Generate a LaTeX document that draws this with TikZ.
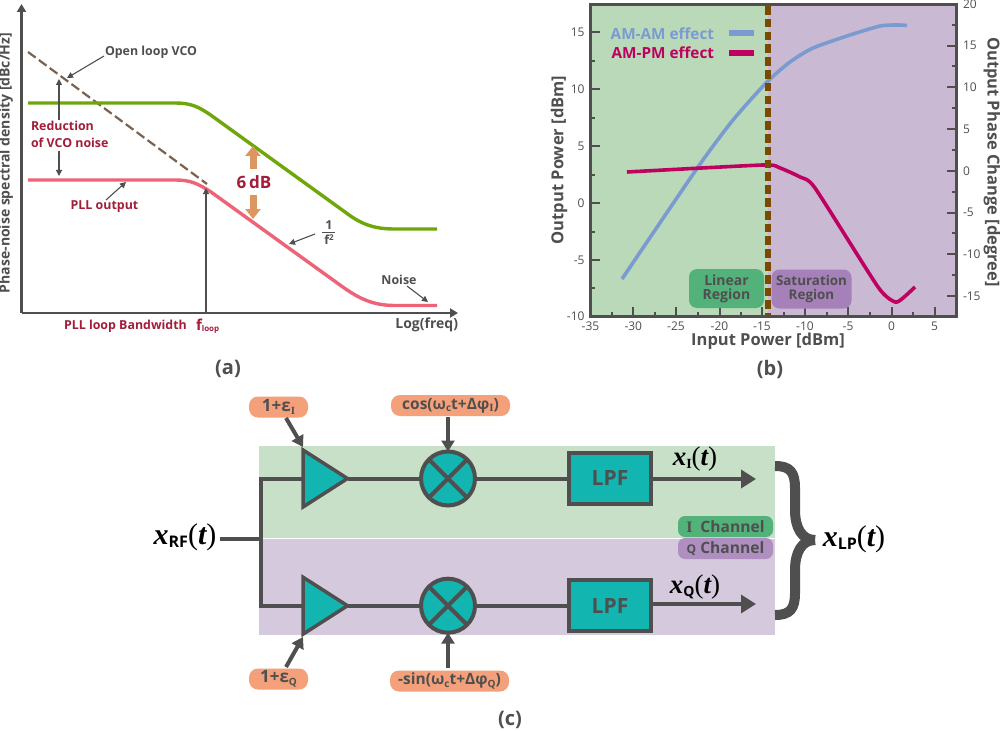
\documentclass[tikz,border=0pt]{standalone}
\usepackage{fontspec}
\setmainfont{Open Sans}
\newfontfamily\mathserif{Liberation Serif}
\usetikzlibrary{arrows.meta,shapes.geometric}
\definecolor{ink}{HTML}{4F4F4F}
\definecolor{dred}{HTML}{A31D3A}
\definecolor{cgreen}{HTML}{6FA60A}
\definecolor{cpink}{HTML}{EE6377}
\definecolor{cdash}{HTML}{7A6250}
\definecolor{corange}{HTML}{DC9660}
\definecolor{bgreen}{HTML}{BAD9B9}
\definecolor{bpurple}{HTML}{C9B9D3}
\definecolor{lgreen}{HTML}{C8DFC8}
\definecolor{lpurple}{HTML}{D5C9DD}
\definecolor{cblue}{HTML}{7A9BD0}
\definecolor{cmag}{HTML}{BE0060}
\definecolor{cbrown}{HTML}{7A4A00}
\definecolor{boxg}{HTML}{52B279}
\definecolor{boxp}{HTML}{A680B8}
\definecolor{teal}{HTML}{12B5B0}
\definecolor{pill}{HTML}{F4A07A}
\newcommand{\fsz}[1]{\fontsize{#1}{#1}\selectfont}
\newcommand{\sbs}[1]{\raisebox{-0.3ex}{\fontsize{10}{10}\selectfont #1}}
\newcommand{\sbI}{\raisebox{-0.3ex}{\mathserif\bfseries\fontsize{11}{11}\selectfont I}}
% #1 subscript, #2 size of the x
\newcommand{\serx}[2]{{\mathserif\fontsize{#2}{#2}\selectfont{\bfseries\itshape x}\raisebox{-0.25ex}{\rmfamily\bfseries\fontsize{\numexpr#2*16/30\relax}{16}\selectfont #1}{(}{\bfseries\itshape t}{)}}}
\tikzset{
 txt/.style={inner sep=0pt,outer sep=0pt,text=ink,font=\bfseries\fsz{12.4}},
 redtxt/.style={txt,text=dred},
 ticklab/.style={txt,font=\fsz{12}},
 axlab/.style={txt,font=\bfseries\fsz{16.5}},
 captxt/.style={txt,font=\bfseries\fsz{20}},
 thinar/.style={draw=ink,line width=1.1pt,-{Triangle[length=6pt,width=6pt]}},
 orar/.style={draw=corange,line width=7pt,-{Triangle[length=10pt,width=15pt]}},
 crv/.style={line width=3.4pt},
 tk/.style={draw=ink,line width=2pt},
 region/.style={rounded corners=8pt,inner sep=0pt,outer sep=0pt,minimum height=39pt,align=center,text=ink,font=\bfseries\fsz{14}},
 chan/.style={rounded corners=7pt,inner sep=0pt,outer sep=0pt,minimum width=95pt,minimum height=21pt,text=ink,font=\bfseries\fsz{15.6}},
 pillbox/.style={fill=pill,rounded corners=9pt,inner sep=0pt,outer sep=0pt,minimum height=21pt,text=ink,font=\bfseries\fsz{15.5}},
 wire/.style={draw=ink,line width=4pt},
 feed/.style={draw=ink,line width=4pt,-{Triangle[length=11pt,width=13pt]}},
 amp/.style={isosceles triangle,isosceles triangle stretches,shape border rotate=0,draw=ink,fill=teal,line width=3.5pt,line join=miter,minimum width=57pt,minimum height=44.5pt,inner sep=0pt,outer sep=0pt,anchor=apex},
 mixer/.style={circle,draw=ink,fill=teal,line width=4pt,minimum size=54pt,inner sep=0pt,outer sep=0pt},
 lpf/.style={draw=ink,fill=teal,line width=4pt,minimum width=82pt,minimum height=51pt,inner sep=0pt,outer sep=0pt,text=ink,font=\bfseries\fsz{21}}
}
\begin{document}
\begin{tikzpicture}[x=1pt,y=-1pt]
\useasboundingbox (0,0) rectangle (1000,730);
\fill[white] (0,0) rectangle (1000,730);
% ---------- panel a
\coordinate (ao) at (21.5,313);
\coordinate (ay) at (21.5,4);
\coordinate (ax) at (458,313);
\draw[draw=ink,line width=2.4pt,-{Triangle[length=8pt,width=9pt]}] (ao) -- (ay);
\draw[draw=ink,line width=2.4pt,-{Triangle[length=8pt,width=9pt]}] (ao) -- (ax);
\draw[cdash,line width=2.2pt,dash pattern=on 9.5pt off 4pt] (28,52) -- (207,184);
\draw[cgreen,crv] (28,103) -- (175,103) .. controls (190,103) and (198,106) .. (212,116) -- (345,212) .. controls (362,225) and (375,229) .. (395,229) -- (437,229);
\draw[cpink,crv] (28,180) -- (175,180) .. controls (190,180) and (197,183) .. (211,192) -- (340,285) .. controls (358,298) and (372,305.5) .. (395,305.5) -- (437,305.5);
\node[txt,anchor=west] (aopen) at (105,52) {Open loop VCO};
\coordinate (aopenT) at (67,78);
\draw[thinar] (104,56) -- (aopenT);
\node[redtxt,anchor=west] (ared1) at (31,126) {Reduction};
\node[redtxt,anchor=west] (ared2) at (31,143) {of VCO noise};
\coordinate (aupT) at (59,79);
\coordinate (adnT) at (59,176);
\draw[thinar] (59,120) -- (aupT);
\draw[thinar] (59,151) -- (adnT);
\node[redtxt] (apll) at (104.5,207) {PLL output};
\coordinate (apllT) at (126,182);
\draw[thinar] (106,200) -- (apllT);
\coordinate (afT) at (206,188);
\draw[thinar] (206,313) -- (afT);
\node[redtxt,anchor=west] (abw) at (64,326) {PLL loop Bandwidth};
\node[redtxt,anchor=west] (afl) at (196,326) {{\fsz{15}f}\raisebox{-0.2ex}{\fontsize{8}{8}\selectfont loop}};
\node[txt,anchor=east,font=\bfseries\fsz{14}] (alog) at (458,325) {Log(freq)};
\node[txt] (anoise) at (399,280) {Noise};
\coordinate (anoiseT) at (428,302);
\draw[thinar] (407,286) -- (anoiseT);
\node[txt] (af1) at (329,225) {1};
\node[txt] (af2) at (329,240) {f\raisebox{0.6ex}{\fontsize{8}{8}\selectfont 2}};
\draw[ink,line width=1pt] (322,232) -- (335,232);
\coordinate (afsT) at (289,244);
\draw[thinar] (315,234) -- (afsT);
\node[redtxt,font=\bfseries\fsz{17}] (a6) at (254,182) {6\,dB};
\coordinate (a6u) at (253,146);
\coordinate (a6d) at (253,219);
\draw[orar] (253,169) -- (a6u);
\draw[orar] (253,195) -- (a6d);
\node[txt,font=\bfseries\fsz{14},rotate=90] (aylab) at (6,163) {Phase-noise spectral density [dBc/Hz]};
\node[captxt] (capa) at (228,369) {(a)};
% ---------- panel b
\fill[bgreen] (590.5,5) rectangle (767.7,316);
\fill[bpurple] (767.7,5) rectangle (956,316);
\draw[cblue,line width=3.6pt,line join=round] plot[smooth,tension=0.4] coordinates {(622,279) (698,167) (733,120) (767,82) (790,62) (813,48) (850,35) (880,26) (897,25) (907,25.5)};
\draw[cmag,line width=3.6pt,line join=round] plot[smooth,tension=0.35] coordinates {(627,172) (763,165) (780,168) (800,177) (815,188) (878,287) (895,302) (903,298) (915,287)};
\draw[cbrown,line width=6pt,dash pattern=on 8.7pt off 4.1pt] (767.7,6) -- (767.7,316);
\draw[ink,line width=3pt] (590.5,4.5) rectangle (956,316);
\foreach \y/\l in {32.3/15,89.3/10,146/5,203/0,260/-5,316/-10}{
  \draw[tk] (590.5,\y) -- (599.5,\y);
  \node[ticklab,anchor=east] (bl\l) at (584.5,\y) {\l};
}
\foreach \y in {61,118,175,232,288}{\draw[tk] (590.5,\y) -- (595,\y);}
\foreach \x/\l in {590.5/-35,633.3/-30,676/-25,719.5/-20,762/-15,805/-10,848/-5,891.5/0,934.5/5}{
  \draw[tk] (\x,316) -- (\x,307);
  \node[ticklab] (bb\l) at (\x,326) {\l};
}
\foreach \x in {612,655,698,741,784,827,870,913}{\draw[tk] (\x,316) -- (\x,311.5);}
\foreach \y/\l in {45.7/15,87.5/10,129/5,171/0,212.5/-5,254/-10,296/-15}{
  \draw[tk] (956,\y) -- (947,\y);
  \node[ticklab,anchor=west] (br\l) at (963,\y) {\l};
}
\node[ticklab,anchor=west] (br20) at (963,4.5) {20};
\foreach \y in {25,66.5,108,150,192,233,275}{\draw[tk] (956,\y) -- (951.5,\y);}
\node[txt,text=cblue,font=\bfseries\fsz{15.3},anchor=east] (bleg1) at (714,34) {AM-AM effect};
\node[txt,text=cmag,font=\bfseries\fsz{15.3},anchor=east] (bleg2) at (714,53) {AM-PM effect};
\draw[cblue,line width=6pt] (729,33) -- (754,33);
\draw[cmag,line width=6pt] (729,53.5) -- (754,53.5);
\node[region,fill=boxg,minimum width=75pt] (blin) at (726.5,288.5) {Linear\\Region};
\node[region,fill=boxp,minimum width=80pt,font=\bfseries\fsz{13.4}] (bsat) at (811.5,289) {Saturation\\Region};
\node[axlab,rotate=90] (bylab) at (559,160) {Output Power [dBm]};
\node[axlab] (bxlab) at (768,341) {Input Power [dBm]};
\node[axlab,rotate=-90] (brlab) at (992,162) {Output Phase Change [degree]};
\node[captxt] (capb) at (770,369) {(b)};
% ---------- panel c
\fill[lgreen] (259,446) rectangle (775,538);
\fill[lpurple] (259,538) rectangle (775,634.5);
\draw[white,line width=0.6pt] (259,538) -- (775,538);
\node[inner sep=0pt,outer sep=0pt] (rf) at (185,537) {\serx{RF}{30}};
\coordinate (split) at (261,538.5);
\coordinate (rfout) at (220,538.5);
\node[amp] (a1) at (347.5,478.5) {};
\node[amp] (a2) at (347.5,605.7) {};
\node[mixer] (m1) at (448,478.5) {};
\node[mixer] (m2) at (448,605.7) {};
\draw[ink,line width=4pt] (m1.45) -- (m1.225) (m1.135) -- (m1.315);
\draw[ink,line width=4pt] (m2.45) -- (m2.225) (m2.135) -- (m2.315);
\node[lpf] (l1) at (610,478) {LPF};
\node[lpf] (l2) at (610,605.5) {LPF};
\draw[wire] (rfout) -- (split);
\draw[wire] (a1.lower side) -- (261,478.5) -- (261,605.7) -- (a2.lower side);
\draw[wire] (a1.apex) -- (m1.west);
\draw[wire] (a2.apex) -- (m2.west);
\draw[wire] (m1.east) -- (l1.west |- m1.east);
\draw[wire] (m2.east) -- (l2.west |- m2.east);
\coordinate (o1) at (756,479);
\coordinate (o2) at (756,604);
\draw[draw=ink,line width=3.5pt,-{Triangle[length=15pt,width=18pt]}] (l1.east |- o1) -- (o1);
\draw[draw=ink,line width=3.5pt,-{Triangle[length=15pt,width=18pt]}] (l2.east |- o2) -- (o2);
\node[inner sep=0pt] (xi) at (695,459) {\serx{\mathserif I}{27}};
\node[inner sep=0pt] (xq) at (695,587) {\serx{Q}{27}};
\node[chan,fill=boxg] (chi) at (725.5,526.5) {{\mathserif\fsz{16}I}\hspace{0.5em}Channel};
\node[chan,fill=boxp!80!lpurple] (chq) at (725.5,548.5) {{\fsz{12}Q} Channel};
\node[pillbox,minimum width=59pt,font=\bfseries\fsz{17}] (p1) at (278.5,407) {1+ε\sbI};
\node[pillbox,minimum width=119pt] (p2) at (450.5,405.5) {cos(ω\sbs{c}t+Δφ\sbI)};
\node[pillbox,minimum width=59pt,font=\bfseries\fsz{17}] (p3) at (278.5,679) {1+ε\sbs{Q}};
\node[pillbox,minimum width=119pt] (p4) at (449.5,681) {-sin(ω\sbs{c}t+Δφ\sbs{Q})};
\coordinate (f1) at (303,447);
\coordinate (f3) at (303,637);
\draw[feed] (286,418) -- (f1);
\draw[feed] (m1 |- p2.south) ++(0,1) -- (m1.north);
\draw[feed] (286,667) -- (f3);
\draw[feed] (m2 |- p4.north) ++(0,-3) -- (m2.south);
\coordinate (bt) at (775,466);
\coordinate (bb) at (775,615);
\coordinate (btip) at (815,540);
\draw[ink,line width=10pt] (bt) .. controls (790,466) and (795,472) .. (795,488) -- (795,510) .. controls (795,528) and (802,540) .. (btip);
\draw[ink,line width=10pt] (bb) .. controls (790,615) and (795,609) .. (795,593) -- (795,570) .. controls (795,552) and (802,540) .. (btip);
\node[inner sep=0pt] (xlp) at (854,539) {\serx{LP}{30}};
\node[captxt] (capc) at (510,720) {(c)};
\end{tikzpicture}
\end{document}
